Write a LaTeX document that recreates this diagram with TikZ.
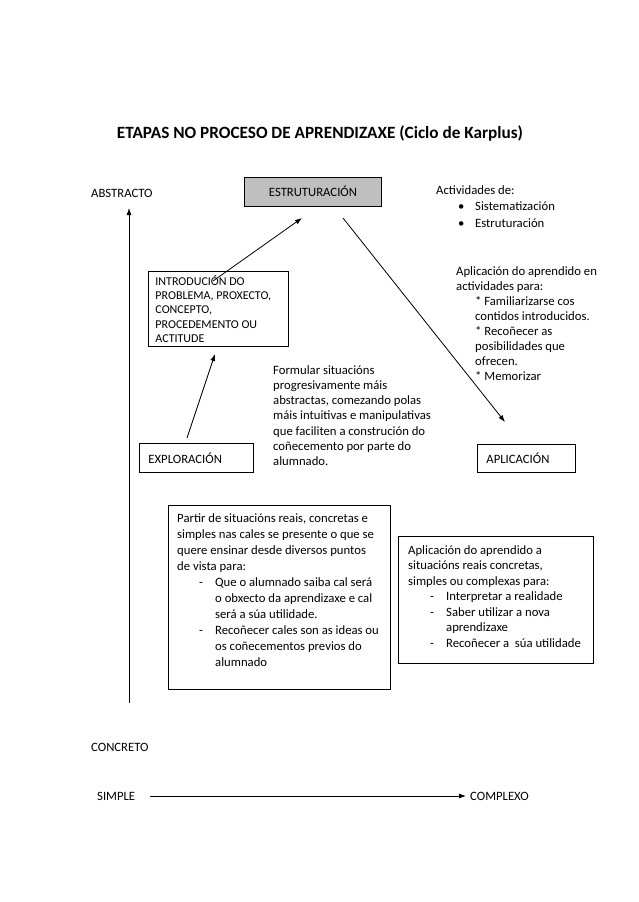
\documentclass[tikz,border=0pt]{standalone}
\usepackage{fontspec}
\setmainfont{Carlito}
\usetikzlibrary{arrows.meta}
\newcommand{\guion}{\makebox[38pt][l]{\hspace*{22pt}-}}
\newcommand{\sangria}{\hspace*{38pt}}
\newcommand{\punto}{\makebox[39pt][l]{\hspace*{22pt}\textbullet}}
\begin{document}
\begin{tikzpicture}[x=1pt,y=-1pt,
  every node/.style={inner sep=0pt, font=\fontsize{12.7}{15.5}\selectfont},
  caixa/.style={draw, line width=0.9pt},
  texto/.style={anchor=north west, align=left},
  frecha/.style={line width=0.8pt, -{Latex[length=7pt,width=5pt]}}]
\useasboundingbox (0,0) rectangle (638,902);
\node[font=\bfseries\fontsize{17.2}{20}\selectfont] (titulo) at (320,133) {ETAPAS NO PROCESO DE APRENDIZAXE (Ciclo de Karplus)};
\node[anchor=west] (abstracto) at (91,193) {ABSTRACTO};
\node[caixa, fill=black!25, minimum width=137pt, minimum height=29pt] (estrut) at (313,191.5) {ESTRUTURACIÓN};
\node[texto, font=\fontsize{12.7}{16.5}\selectfont] (actividades) at (436,185) {Actividades de:\\ \punto Sistematización\\ \punto Estruturación};
\node[caixa, anchor=north west, minimum height=75pt, text width=126pt, inner xsep=7pt, align=flush left, font=\fontsize{12}{14.3}\selectfont] (intro) at (148,271) {INTRODUCIÓN DO\\ PROBLEMA, PROXECTO,\\ CONCEPTO,\\ PROCEDEMENTO OU\\ ACTITUDE};
\node[texto, font=\fontsize{12.7}{15.3}\selectfont] (formular) at (273,365) {Formular situacións\\ progresivamente máis\\ abstractas, comezando polas\\ máis intuitivas e manipulativas\\ que faciliten a construción do\\ coñecemento por parte do\\ alumnado.};
\node[texto, font=\fontsize{12.7}{15}\selectfont] (aplicacionen) at (456,266.5) {Aplicación do aprendido en\\ actividades para:\\ \hspace*{19pt}* Familiarizarse cos\\ \hspace*{19pt}contidos introducidos.\\ \hspace*{19pt}* Recoñecer as\\ \hspace*{19pt}posibilidades que\\ \hspace*{19pt}ofrecen.\\ \hspace*{19pt}* Memorizar};
\node[caixa, anchor=north west, minimum height=29pt, text width=96pt, inner xsep=9pt, align=flush left] (exploracion) at (139,443) {EXPLORACIÓN};
\node[caixa, anchor=north west, minimum height=28pt, text width=80pt, inner xsep=9pt, align=flush left] (aplicacion) at (477,444) {APLICACIÓN};
\node[caixa, anchor=north west, minimum width=222pt, minimum height=184pt] (partir) at (168,505) {};
\node[texto, font=\fontsize{12.7}{16}\selectfont] (partirtexto) at (177,513) {Partir de situacións reais, concretas e\\ simples nas cales se presente o que se\\ quere ensinar desde diversos puntos\\ de vista para:\\ \guion Que o alumnado saiba cal será\\ \sangria o obxecto da aprendizaxe e cal\\ \sangria será a súa utilidade.\\ \guion Recoñecer cales son as ideas ou\\ \sangria os coñecementos previos do\\ \sangria alumnado};
\node[caixa, anchor=north west, minimum width=195pt, minimum height=127pt] (aplicar) at (398,536) {};
\node[texto] (aplicartexto) at (408,545) {Aplicación do aprendido a\\ situacións reais concretas,\\ simples ou complexas para:\\ \guion Interpretar a realidade\\ \guion Saber utilizar a nova\\ \sangria aprendizaxe\\ \guion Recoñecer a\ \ súa utilidade};
\node[anchor=west] (concreto) at (91,747) {CONCRETO};
\node[anchor=west] (simple) at (97,796) {SIMPLE};
\node[anchor=west] (complexo) at (470,796) {COMPLEXO};
\coordinate (eixobase) at (129,703);
\coordinate (eixotope) at (129,208);
\coordinate (introsaida) at (213,281);
\coordinate (estrutchegada) at (302,218);
\coordinate (estrutsaida) at (343,218);
\coordinate (aplicchegada) at (505,422);
\coordinate (explorsaida) at (187,438);
\coordinate (introchegada) at (215,354);
\draw[frecha] (eixobase) -- (eixotope);
\draw[frecha] (introsaida) -- (estrutchegada);
\draw[frecha] (estrutsaida) -- (aplicchegada);
\draw[frecha] (explorsaida) -- (introchegada);
\draw[frecha] ([xshift=15pt]simple.east) -- ([xshift=-4pt]complexo.west);
\end{tikzpicture}
\end{document}
